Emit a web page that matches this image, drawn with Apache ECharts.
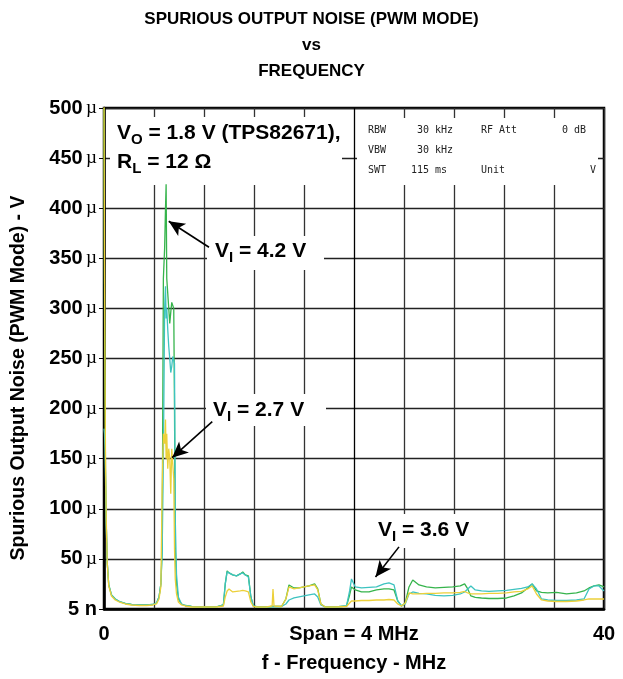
<!DOCTYPE html>
<html>
<head>
<meta charset="utf-8">
<script src="https://cdn.jsdelivr.net/npm/echarts@6/dist/echarts.min.js"></script>
<style>
  html, body { margin: 0; padding: 0; background: #fff; }
  #app { width: 623px; height: 679px; }
</style>
</head>
<body>
<div id="app"></div>
<script>
// frequency points (MHz) shared by the three traces
const freqMHz = [
  0, 0.04, 0.08, 0.12, 0.18, 0.26, 0.38, 0.6, 0.9, 1.3,
  1.7, 2.2, 2.8, 3.4, 3.9, 4.2, 4.4, 4.55, 4.65, 4.75,
  4.85, 4.92, 4.97, 5.02, 5.1, 5.18, 5.26, 5.34, 5.42, 5.5,
  5.58, 5.64, 5.7, 5.8, 5.95, 6.2, 6.5, 7, 8, 9,
  9.55, 9.7, 9.85, 10.0, 10.3, 10.6, 10.9, 11.1, 11.3, 11.55,
  11.75, 11.95, 12.3, 13, 13.45, 13.52, 13.6, 14.2, 14.55, 14.8,
  15.2, 15.6, 16.0, 16.4, 16.85, 17.1, 17.35, 17.7, 18.5, 19.4,
  19.65, 19.8, 20.1, 20.6, 21.2, 21.8, 22.4, 22.8, 23.2, 23.5,
  23.8, 24.1, 24.4, 24.7, 25.2, 25.8, 26.5, 27.2, 27.9, 28.5,
  28.85, 29.1, 29.35, 29.7, 30.2, 30.8, 31.5, 32.2, 32.8, 33.4,
  33.9, 34.25, 34.6, 35.0, 35.5, 36.2, 37.0, 37.8, 38.4, 38.8,
  39.2, 39.6, 40
];
// noise in uV
const noise42 = [
  500, 300, 215, 140, 85, 46, 24, 14, 10, 7,
  5.5, 4.5, 4, 4, 4.5, 6, 12, 25, 60, 330,
  360, 400, 424, 330, 315, 300, 285, 296, 306, 303,
  300, 200, 60, 25, 10, 5, 3.5, 2.5, 2, 2,
  4, 25, 38, 36, 34, 33, 35, 37, 34, 33,
  12, 3, 2, 2, 2.5, 3, 2.5, 2.5, 10, 24,
  21, 21, 22, 23, 25, 20, 5, 2, 2, 3,
  14, 22, 19, 17, 17, 19, 20, 20, 19, 8,
  3, 6, 22, 29, 24, 22, 21, 21.5, 22, 23,
  25, 20, 13, 11.5, 11, 10.5, 10.5, 11, 13, 16,
  21, 25, 18, 16.5, 16, 16.5, 15, 16, 18, 21,
  23, 24, 22
];
const noise36 = [
  180, 175, 160, 130, 85, 46, 24, 14, 10, 7,
  5.5, 4.5, 4, 4, 4.5, 6, 12, 25, 55, 150,
  300, 322, 290, 300, 279, 262, 250, 236, 242, 252,
  252, 245, 90, 35, 12, 5, 3.5, 2.5, 2, 2,
  4, 25, 37, 36, 34, 33, 35, 36, 34, 32,
  12, 3, 2, 2, 2.5, 3, 2.5, 2.5, 5, 9,
  11, 12, 13, 14, 15, 12, 4, 2, 2, 3,
  18, 30, 22, 21, 21.5, 22, 25, 26, 24, 8,
  3, 5, 15, 17, 15.5, 15, 13.5, 13, 13.5, 15,
  17, 20, 23, 19, 18, 17.5, 18, 18.5, 19.5, 20.5,
  22, 25, 20, 10, 9, 8.5, 8.5, 9, 10, 20,
  23, 23, 18
];
const noise27 = [
  520, 350, 240, 150, 90, 45, 23, 13, 9, 6.5,
  5, 4, 3.5, 3.5, 4, 5, 10, 22, 120, 175,
  165, 189, 150, 175, 140, 160, 150, 115, 160, 145,
  130, 60, 30, 15, 7, 4, 3, 2, 2, 2,
  3, 12, 18, 20, 17, 17.5, 18, 18.5, 18, 17,
  7, 2.5, 2, 2, 3, 20, 3, 2.5, 10, 22,
  20, 21, 22, 23, 24, 19, 5, 2, 2, 2.5,
  6, 8, 8, 8.5, 8.5, 9, 9, 9.5, 9, 5,
  3, 6, 16, 15, 15, 15.5, 15.5, 16, 16, 16.5,
  17.5, 16, 15, 15, 15, 15.5, 15.5, 16, 17, 17.5,
  20, 23, 15, 9, 8, 7.5, 7.5, 8, 9, 10,
  10, 10, 10
];
const xTickLabels = { 0: '0', 20: 'Span = 4 MHz', 40: '40' };
// arrows: [from, to] in (MHz, uV)
const arrowLines = [
  [[8.4, 361], [5.18, 387]],
  [[8.66, 187], [5.45, 151]],
  [[23.6, 62], [21.72, 32]]
];

const font = 'Liberation Sans';
const dom = document.getElementById('app');
const myChart = echarts.init(dom);

function trace(name, arr, color) {
  return {
    name: name,
    type: 'line',
    showSymbol: false,
    data: freqMHz.map((f, i) => [f, arr[i]]),
    lineStyle: { color: color, width: 1.3 },
    itemStyle: { color: color }
  };
}

function whiteBox(x, y, w, h) {
  return { type: 'rect', z: 1, silent: true, shape: { x: x, y: y, width: w, height: h }, style: { fill: '#fff' } };
}

const subRich = {
  m: { fontFamily: font, fontWeight: 'bold', fontSize: 21, color: '#000' },
  s: { fontFamily: font, fontWeight: 'bold', fontSize: 15, color: '#000', padding: [13, 0, 0, 0] }
};

function label(x, y, text) {
  return { type: 'text', z: 3, silent: true, x: x, y: y, style: { text: text, rich: subRich, verticalAlign: 'middle' } };
}

function analyzer(x, y, text, align) {
  return { type: 'text', z: 3, silent: true, x: x, y: y, style: { text: text, font: '10px "DejaVu Sans Mono"', fill: '#222', verticalAlign: 'middle', align: align || 'left' } };
}

const gridColors = ['#333', '#333', '#333', '#333', '#333', '#000', '#333', '#333', '#333', '#333', '#333'];

let option = {
  animation: false,
  textStyle: { fontFamily: font },
  title: {
    text: 'SPURIOUS OUTPUT NOISE (PWM MODE)\nvs\nFREQUENCY',
    left: 'center',
    top: 1,
    textStyle: { fontFamily: font, fontWeight: 'bold', fontSize: 17, lineHeight: 26, color: '#000' }
  },
  grid: { left: 104, right: 19, top: 108, bottom: 70, show: true, borderColor: '#000', borderWidth: 2.5 },
  xAxis: {
    type: 'value',
    min: 0,
    max: 40,
    interval: 4,
    name: 'f - Frequency - MHz',
    nameLocation: 'middle',
    nameGap: 44,
    nameTextStyle: { fontFamily: font, fontWeight: 'bold', fontSize: 20, color: '#000' },
    axisLine: { lineStyle: { color: '#000', width: 2.5 } },
    axisTick: { show: false },
    axisLabel: {
      margin: 15,
      fontFamily: font, fontWeight: 'bold', fontSize: 20, color: '#000',
      formatter: (v) => xTickLabels[v] || ''
    },
    splitLine: { show: true, lineStyle: { color: gridColors, width: 1.3 } }
  },
  yAxis: {
    type: 'value',
    min: 0,
    max: 500,
    interval: 50,
    axisLine: { lineStyle: { color: '#000', width: 2.5 } },
    axisTick: { show: true, inside: false, length: 5, lineStyle: { color: '#000' } },
    axisLabel: {
      margin: 7,
      formatter: (v) => (v === 0 ? '{n|5 n}' : '{n|' + v + '} {u|\u00b5}'),
      rich: {
        n: { fontFamily: font, fontWeight: 'bold', fontSize: 20, color: '#000' },
        u: { fontFamily: 'Liberation Serif', fontSize: 19, color: '#000' }
      }
    },
    splitLine: { show: true, lineStyle: { color: '#222', width: 1.3 } }
  },
  series: [
    trace('VI = 4.2 V', noise42, '#36b44c'),
    trace('VI = 3.6 V', noise36, '#3dc3c0'),
    Object.assign(trace('VI = 2.7 V', noise27, '#ecd03a'), {
      markLine: {
        silent: true,
        symbol: ['none', 'arrow'],
        symbolSize: [11, 16],
        label: { show: false },
        lineStyle: { color: '#000', width: 1.6, type: 'solid' },
        data: arrowLines.map((a) => [{ coord: a[0] }, { coord: a[1] }])
      }
    })
  ],
  graphic: [
    whiteBox(110, 117, 232, 68),
    whiteBox(357, 118, 241, 67),
    whiteBox(207, 236, 117, 34),
    whiteBox(206, 394, 120, 32),
    whiteBox(370, 514, 115, 34),
    label(117, 133, '{m|V}{s|O}{m| = 1.8 V (TPS82671),}'),
    label(117, 162, '{m|R}{s|L}{m| = 12 \u03a9}'),
    label(215, 251, '{m|V}{s|I}{m| = 4.2 V}'),
    label(213, 410, '{m|V}{s|I}{m| = 2.7 V}'),
    label(378, 530, '{m|V}{s|I}{m| = 3.6 V}'),
    analyzer(368, 130, 'RBW'),
    analyzer(417, 130, '30 kHz'),
    analyzer(481, 130, 'RF Att'),
    analyzer(562, 130, '0 dB'),
    analyzer(368, 150, 'VBW'),
    analyzer(417, 150, '30 kHz'),
    analyzer(368, 170, 'SWT'),
    analyzer(411, 170, '115 ms'),
    analyzer(481, 170, 'Unit'),
    analyzer(596, 170, 'V', 'right'),
    {
      type: 'text', silent: true, x: 19, y: 378, rotation: Math.PI / 2,
      style: { text: 'Spurious Output Noise (PWM Mode) - V', font: 'bold 19.5px "Liberation Sans"', fill: '#000', align: 'center', verticalAlign: 'middle' }
    }
  ]
};
myChart.setOption(option);
</script>
</body>
</html>
